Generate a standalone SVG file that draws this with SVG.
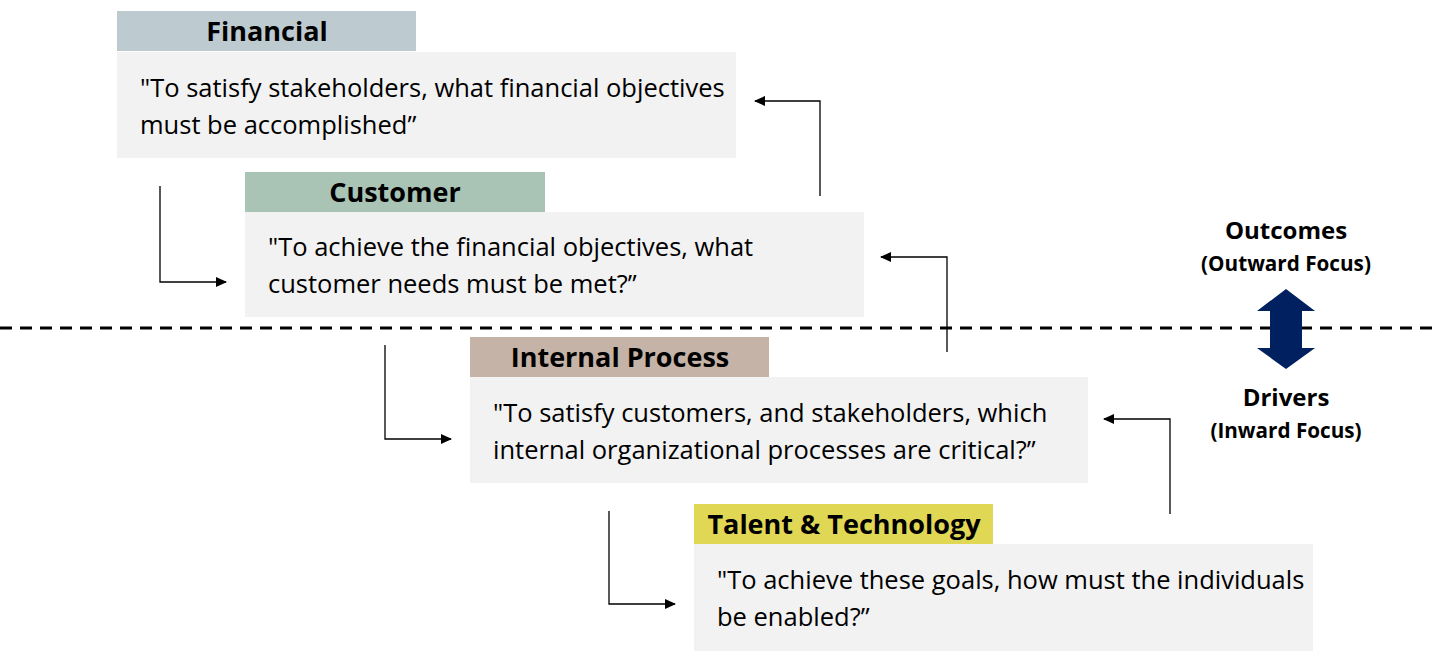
<svg xmlns="http://www.w3.org/2000/svg" width="1436" height="652" viewBox="0 0 1436 652">
<defs>
<marker id="ah" markerWidth="11" markerHeight="10" refX="10" refY="5" orient="auto" markerUnits="userSpaceOnUse">
<path d="M0,0 L11,5 L0,10 Z" fill="#000"/>
</marker>
<style>
.hd{font-family:"Open Sans","Liberation Sans",sans-serif;font-weight:bold;font-size:27px;fill:#000;text-anchor:middle}
.bd{font-family:"Open Sans","Liberation Sans",sans-serif;font-size:25.5px;fill:#000}
.body{fill:#F2F2F2}
.conn{fill:none;stroke:#000;stroke-width:1.3;marker-end:url(#ah)}
.side{font-family:"Open Sans","Liberation Sans",sans-serif;font-weight:bold;fill:#000;text-anchor:middle}
</style>
</defs>
<rect width="1436" height="652" fill="#fff"/>
<line x1="0" y1="328" x2="1436" y2="328" stroke="#000" stroke-width="3" stroke-dasharray="12,8"/>
<g id="financial">
<rect x="117" y="11" width="299" height="40" fill="#BDCAD0"/>
<text class="hd" x="267" y="41">Financial</text>
<rect class="body" x="117" y="52" width="619" height="106"/>
<text class="bd" x="140" y="97">"To satisfy stakeholders, what financial objectives</text>
<text class="bd" x="140" y="134">must be accomplished”</text>
</g>
<g id="customer">
<rect x="245" y="172" width="300" height="40" fill="#A9C4B5"/>
<text class="hd" x="395" y="202">Customer</text>
<rect class="body" x="245" y="212" width="619" height="105"/>
<text class="bd" x="268" y="256">"To achieve the financial objectives, what</text>
<text class="bd" x="268" y="293">customer needs must be met?”</text>
</g>
<g id="internal">
<rect x="470" y="337" width="299" height="40" fill="#C4B3A6"/>
<text class="hd" x="620" y="367">Internal Process</text>
<rect class="body" x="470" y="377" width="618" height="106"/>
<text class="bd" x="493" y="422">"To satisfy customers, and stakeholders, which</text>
<text class="bd" x="493" y="459">internal organizational processes are critical?”</text>
</g>
<g id="talent">
<rect x="694" y="504" width="299" height="40" fill="#E0D855"/>
<text class="hd" x="844" y="534">Talent &amp; Technology</text>
<rect class="body" x="694" y="544" width="619" height="107"/>
<text class="bd" x="717" y="589">"To achieve these goals, how must the individuals</text>
<text class="bd" x="717" y="626">be enabled?”</text>
</g>
<g id="connectors">
<path class="conn" d="M160,186 V282 H226"/>
<path class="conn" d="M385,345 V439 H451"/>
<path class="conn" d="M609,511 V604 H675"/>
<path class="conn" d="M820,196 V101 H755"/>
<path class="conn" d="M947,352 V257 H881"/>
<path class="conn" d="M1170,514 V419 H1104"/>
</g>
<g id="focus">
<polygon points="1286,289 1315,311 1302,311 1302,348 1315,348 1286,369 1257,348 1270,348 1270,311 1257,311" fill="#002060"/>
<text class="side" x="1286" y="239" font-size="24">Outcomes</text>
<text class="side" x="1286" y="271" font-size="20.7">(Outward Focus)</text>
<text class="side" x="1286" y="406" font-size="24">Drivers</text>
<text class="side" x="1286" y="438" font-size="20.7">(Inward Focus)</text>
</g>
</svg>
